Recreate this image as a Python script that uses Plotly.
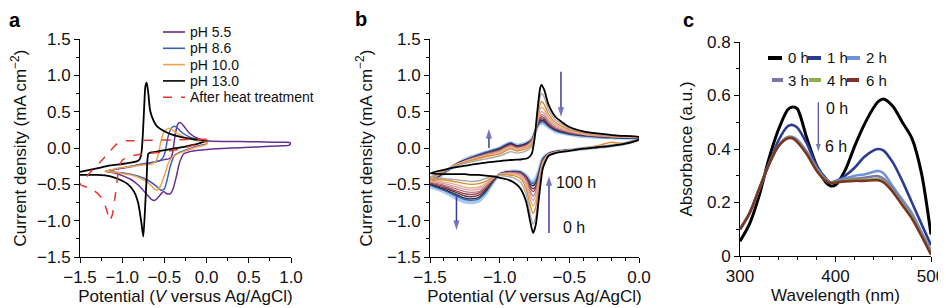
import plotly.graph_objects as go

# The page body keeps an 8 px margin, so the figure is 8 px smaller than the window
# and every reference pixel position is shifted by that offset.
W, H = 938, 300
OFF = 8
FONT = "Liberation Sans, Arial, Helvetica, sans-serif"

# ---------------- Panel a data (potential V vs Ag/AgCl, current mA cm-2) ----------------
A_PH55_E = [-1.2, -1.1, -1.0, -0.9, -0.8, -0.7, -0.6, -0.5, -0.45, -0.42, -0.4, -0.37, -0.34, -0.32, -0.29,
            -0.25, -0.2, -0.1, 0.0, 0.2, 0.4, 0.6, 0.8, 0.95, 1.0, 0.98, 0.9, 0.7, 0.5, 0.3, 0.1, 0.0,
            -0.1, -0.2, -0.27, -0.32, -0.36, -0.4, -0.43, -0.47, -0.51, -0.56, -0.61, -0.65, -0.7, -0.8,
            -0.9, -1.0, -1.1, -1.2]
A_PH55_J = [-0.32, -0.3, -0.28, -0.26, -0.23, -0.21, -0.19, -0.16, -0.15, -0.13, -0.05, 0.2, 0.33, 0.35, 0.33,
            0.27, 0.2, 0.13, 0.1, 0.09, 0.09, 0.085, 0.08, 0.08, 0.07, 0.04, 0.03, 0.02, 0.01, 0.0, -0.01, -0.02,
            -0.03, -0.05, -0.08, -0.2, -0.4, -0.57, -0.63, -0.63, -0.6, -0.66, -0.72, -0.71, -0.65, -0.52,
            -0.43, -0.38, -0.34, -0.32]

A_PH86_E = [-1.2, -1.0, -0.8, -0.65, -0.55, -0.52, -0.49, -0.46, -0.42, -0.38, -0.35, -0.3, -0.2, -0.1, 0.0,
            0.0, -0.1, -0.2, -0.3, -0.38, -0.43, -0.47, -0.5, -0.54, -0.6, -0.7, -0.8, -0.9, -1.0, -1.1, -1.2]
A_PH86_J = [-0.32, -0.27, -0.23, -0.2, -0.17, -0.14, -0.05, 0.14, 0.27, 0.3, 0.28, 0.22, 0.15, 0.12, 0.1,
            0.06, 0.03, -0.01, -0.05, -0.1, -0.25, -0.45, -0.56, -0.58, -0.52, -0.44, -0.39, -0.36, -0.34, -0.33, -0.32]

A_PH10_E = [-1.2, -1.0, -0.8, -0.65, -0.6, -0.57, -0.54, -0.5, -0.45, -0.42, -0.35, -0.25, -0.1, 0.0,
            0.0, -0.1, -0.2, -0.3, -0.4, -0.45, -0.5, -0.55, -0.59, -0.63, -0.7, -0.8, -0.9, -1.0, -1.1, -1.2]
A_PH10_J = [-0.32, -0.27, -0.24, -0.22, -0.18, -0.08, 0.1, 0.23, 0.27, 0.26, 0.2, 0.14, 0.1, 0.08,
            0.05, 0.02, -0.02, -0.06, -0.12, -0.2, -0.38, -0.53, -0.58, -0.55, -0.47, -0.41, -0.37, -0.35, -0.33, -0.32]

A_PH13_E = [-1.5, -1.3, -1.14, -1.0, -0.9, -0.82, -0.79, -0.77, -0.755, -0.74, -0.725, -0.71, -0.69, -0.67,
            -0.63, -0.59, -0.5, -0.4, -0.3, -0.15, 0.0, -0.1, -0.25, -0.4, -0.55, -0.65, -0.69, -0.71, -0.73,
            -0.75, -0.77, -0.81, -0.86, -0.93, -1.0, -1.14, -1.3, -1.5]
A_PH13_J = [-0.33, -0.28, -0.24, -0.22, -0.2, -0.18, -0.15, -0.05, 0.2, 0.55, 0.85, 0.9, 0.75, 0.52,
            0.38, 0.3, 0.23, 0.18, 0.15, 0.12, 0.1, 0.06, 0.02, -0.01, -0.04, -0.06, -0.08, -0.4, -0.85,
            -1.22, -1.05, -0.76, -0.6, -0.5, -0.45, -0.39, -0.37, -0.37]

A_HEAT_E = [0.0, -0.2, -0.4, -0.6, -0.8, -0.95, -1.02, -1.07, -1.15, -1.25, -1.35, -1.45, -1.5, -1.42, -1.34,
            -1.27, -1.22, -1.18, -1.15, -1.12, -1.09, -1.06, -1.04, -1.0, -0.93, -0.8, -0.65, -0.5, -0.3, -0.15, 0.0]
A_HEAT_J = [0.12, 0.12, 0.11, 0.11, 0.1, 0.1, 0.09, 0.05, -0.05, -0.18, -0.3, -0.43, -0.5, -0.54, -0.58,
            -0.65, -0.74, -0.87, -1.0, -0.93, -0.72, -0.45, -0.28, -0.17, -0.12, -0.09, -0.07, -0.05, -0.01, 0.04, 0.1]

A_NAMES = ["pH 5.5", "pH 8.6", "pH 10.0", "pH 13.0", "After heat treatment"]
A_COLORS = ["#6b2d8f", "#3b5fb5", "#f2a24e", "#000000", "#e0362c"]

# ---------------- Panel b data ----------------
B_E_UP = [-1.5, -1.4, -1.3, -1.2, -1.1, -1.0, -0.95, -0.92, -0.88, -0.84, -0.8, -0.77, -0.75, -0.73, -0.71,
          -0.70, -0.68, -0.65, -0.6, -0.5, -0.4, -0.3, -0.15, 0.0]
B_E_DN = [0.0, -0.1, -0.2, -0.3, -0.4, -0.5, -0.6, -0.65, -0.69, -0.72, -0.74, -0.76, -0.78, -0.81, -0.85,
          -0.9, -0.95, -1.0, -1.05, -1.1, -1.15, -1.2, -1.25, -1.3, -1.4, -1.5]

B_UP_000H = [-0.35, -0.30, -0.26, -0.23, -0.20, -0.18, -0.17, -0.165, -0.16, -0.155, -0.14, -0.08, 0.12, 0.50, 0.82, 0.87, 0.80, 0.60, 0.43, 0.29, 0.23, 0.20, 0.17, 0.15]
B_UP_010H = [-0.40, -0.31, -0.24, -0.19, -0.15, -0.11, -0.07, -0.05, -0.07, -0.06, -0.03, 0.02, 0.15, 0.45, 0.70, 0.75, 0.70, 0.53, 0.39, 0.27, 0.22, 0.19, 0.17, 0.15]
B_UP_020H = [-0.42, -0.32, -0.23, -0.17, -0.12, -0.08, -0.03, -0.01, -0.04, -0.03, 0.00, 0.05, 0.16, 0.40, 0.60, 0.64, 0.60, 0.47, 0.35, 0.25, 0.21, 0.18, 0.16, 0.15]
B_UP_030H = [-0.43, -0.32, -0.23, -0.16, -0.11, -0.06, -0.01, 0.01, -0.02, -0.01, 0.02, 0.07, 0.17, 0.38, 0.53, 0.56, 0.53, 0.42, 0.32, 0.24, 0.20, 0.18, 0.16, 0.14]
B_UP_040H = [-0.44, -0.32, -0.22, -0.15, -0.10, -0.05, 0.00, 0.02, -0.01, 0.00, 0.03, 0.08, 0.18, 0.36, 0.48, 0.50, 0.48, 0.39, 0.30, 0.23, 0.19, 0.17, 0.15, 0.14]
B_UP_050H = [-0.45, -0.33, -0.22, -0.15, -0.09, -0.04, 0.01, 0.03, 0.00, 0.01, 0.04, 0.09, 0.19, 0.34, 0.44, 0.46, 0.44, 0.36, 0.28, 0.22, 0.19, 0.17, 0.15, 0.14]
B_UP_060H = [-0.46, -0.33, -0.22, -0.14, -0.08, -0.03, 0.02, 0.04, 0.01, 0.02, 0.05, 0.10, 0.19, 0.33, 0.41, 0.43, 0.41, 0.34, 0.27, 0.21, 0.18, 0.16, 0.15, 0.14]
B_UP_070H = [-0.47, -0.33, -0.21, -0.14, -0.08, -0.02, 0.03, 0.05, 0.02, 0.03, 0.06, 0.10, 0.20, 0.32, 0.39, 0.40, 0.39, 0.32, 0.26, 0.21, 0.18, 0.16, 0.15, 0.14]
B_UP_080H = [-0.48, -0.34, -0.21, -0.13, -0.07, -0.01, 0.04, 0.06, 0.03, 0.04, 0.07, 0.11, 0.20, 0.31, 0.37, 0.38, 0.37, 0.31, 0.25, 0.20, 0.17, 0.16, 0.14, 0.13]
B_UP_090H = [-0.49, -0.34, -0.21, -0.13, -0.06, 0.00, 0.05, 0.07, 0.03, 0.04, 0.07, 0.11, 0.20, 0.30, 0.35, 0.36, 0.35, 0.30, 0.24, 0.19, 0.17, 0.15, 0.14, 0.13]
B_UP_100H = [-0.50, -0.35, -0.21, -0.12, -0.06, 0.00, 0.05, 0.07, 0.04, 0.05, 0.08, 0.12, 0.20, 0.29, 0.34, 0.34, 0.33, 0.29, 0.23, 0.19, 0.16, 0.15, 0.14, 0.13]

B_DN_000H = [0.12, 0.06, 0.03, 0.01, -0.01, -0.04, -0.07, -0.11, -0.28, -0.72, -1.05, -1.17, -1.02, -0.74, -0.56, -0.47, -0.43, -0.41, -0.39, -0.38, -0.37, -0.37, -0.36, -0.36, -0.36, -0.35]
B_DN_010H = [0.12, 0.07, 0.04, 0.02, 0.00, -0.03, -0.06, -0.10, -0.25, -0.64, -0.94, -1.05, -0.92, -0.64, -0.47, -0.41, -0.39, -0.38, -0.39, -0.42, -0.45, -0.46, -0.45, -0.44, -0.42, -0.41]
B_DN_020H = [0.11, 0.06, 0.08, 0.03, 0.00, -0.03, -0.06, -0.10, -0.23, -0.56, -0.81, -0.90, -0.80, -0.56, -0.42, -0.38, -0.37, -0.37, -0.40, -0.46, -0.49, -0.50, -0.49, -0.47, -0.44, -0.43]
B_DN_030H = [0.12, 0.06, 0.03, 0.01, -0.01, -0.03, -0.06, -0.09, -0.21, -0.50, -0.72, -0.80, -0.71, -0.50, -0.39, -0.36, -0.36, -0.37, -0.41, -0.49, -0.54, -0.55, -0.54, -0.51, -0.47, -0.45]
B_DN_040H = [0.12, 0.06, 0.03, 0.01, -0.01, -0.03, -0.06, -0.09, -0.20, -0.46, -0.65, -0.72, -0.65, -0.47, -0.37, -0.35, -0.35, -0.36, -0.42, -0.51, -0.57, -0.58, -0.57, -0.54, -0.49, -0.46]
B_DN_050H = [0.12, 0.06, 0.03, 0.01, -0.01, -0.03, -0.06, -0.09, -0.19, -0.43, -0.60, -0.66, -0.60, -0.44, -0.36, -0.34, -0.34, -0.36, -0.43, -0.53, -0.60, -0.61, -0.60, -0.57, -0.51, -0.47]
B_DN_060H = [0.12, 0.06, 0.03, 0.01, -0.01, -0.03, -0.05, -0.08, -0.18, -0.40, -0.55, -0.60, -0.56, -0.42, -0.35, -0.34, -0.34, -0.36, -0.44, -0.55, -0.62, -0.64, -0.63, -0.60, -0.53, -0.48]
B_DN_070H = [0.12, 0.06, 0.03, 0.01, -0.01, -0.03, -0.05, -0.08, -0.17, -0.38, -0.52, -0.56, -0.53, -0.41, -0.34, -0.33, -0.33, -0.36, -0.45, -0.57, -0.65, -0.67, -0.66, -0.62, -0.55, -0.49]
B_DN_080H = [0.12, 0.06, 0.03, 0.01, -0.01, -0.03, -0.05, -0.08, -0.16, -0.36, -0.48, -0.52, -0.50, -0.40, -0.34, -0.33, -0.33, -0.36, -0.46, -0.59, -0.68, -0.70, -0.69, -0.65, -0.57, -0.50]
B_DN_090H = [0.12, 0.06, 0.03, 0.01, -0.01, -0.03, -0.05, -0.08, -0.15, -0.34, -0.45, -0.49, -0.47, -0.39, -0.33, -0.32, -0.33, -0.36, -0.47, -0.61, -0.70, -0.72, -0.71, -0.67, -0.58, -0.51]
B_DN_100H = [0.12, 0.06, 0.03, 0.01, -0.01, -0.03, -0.05, -0.08, -0.14, -0.32, -0.42, -0.46, -0.45, -0.38, -0.33, -0.32, -0.33, -0.36, -0.48, -0.63, -0.73, -0.75, -0.74, -0.70, -0.60, -0.53]

B_NAMES = ["0 h", "10 h", "20 h", "30 h", "40 h", "50 h", "60 h", "70 h", "80 h", "90 h", "100 h"]
B_COLORS = ["#000000", "#a8a8a8", "#e08a2a", "#e6b08c", "#d9a0a6", "#b87480", "#93464f",
            "#6a2e3a", "#1f2b58", "#3b6fb0", "#a8c8ec"]
B_WIDTHS = [1.8, 1.4, 1.4, 1.4, 1.4, 1.4, 1.4, 1.4, 1.4, 1.6, 3.5]

# arrows drawn in panel b (tail x, tail y, tip x, tip y)
B_ARROWS = [(-0.56, 1.05, -0.56, 0.43), (-1.077, 0.0, -1.077, 0.26),
            (-1.31, -0.67, -1.31, -1.13), (-0.646, -1.17, -0.646, -0.39)]

# ---------------- Panel c data (absorbance) ----------------
C_WL = [300, 310, 320, 330, 340, 350, 355, 360, 370, 380, 390, 395, 400, 410, 420, 430, 440, 445, 450, 460, 470, 480, 490, 500]
C_0H = [0.055, 0.12, 0.225, 0.36, 0.47, 0.547, 0.557, 0.55, 0.44, 0.34, 0.275, 0.262, 0.265, 0.32, 0.41, 0.49, 0.555, 0.578, 0.587, 0.56, 0.50, 0.44, 0.31, 0.08]
C_1H = [0.10, 0.16, 0.25, 0.34, 0.43, 0.485, 0.49, 0.48, 0.42, 0.34, 0.29, 0.275, 0.28, 0.30, 0.33, 0.37, 0.395, 0.40, 0.395, 0.35, 0.28, 0.20, 0.12, 0.04]
C_2H = [0.10, 0.16, 0.25, 0.34, 0.41, 0.445, 0.445, 0.435, 0.39, 0.33, 0.285, 0.275, 0.28, 0.29, 0.30, 0.305, 0.315, 0.318, 0.31, 0.26, 0.21, 0.16, 0.09, 0.02]
C_3H = [0.10, 0.16, 0.25, 0.34, 0.41, 0.443, 0.443, 0.43, 0.385, 0.325, 0.283, 0.275, 0.278, 0.285, 0.29, 0.292, 0.298, 0.298, 0.29, 0.25, 0.20, 0.15, 0.085, 0.015]
C_4H = [0.10, 0.16, 0.25, 0.34, 0.41, 0.441, 0.441, 0.428, 0.383, 0.323, 0.282, 0.274, 0.276, 0.282, 0.285, 0.285, 0.287, 0.287, 0.28, 0.243, 0.195, 0.145, 0.08, 0.01]
C_6H = [0.10, 0.16, 0.25, 0.34, 0.41, 0.44, 0.44, 0.426, 0.38, 0.32, 0.28, 0.273, 0.275, 0.279, 0.281, 0.281, 0.283, 0.283, 0.276, 0.24, 0.19, 0.14, 0.075, 0.005]
C_NAMES = ["0 h", "1 h", "2 h", "3 h", "4 h", "6 h"]
C_COLORS = ["#000000", "#2a3a96", "#7191d6", "#7b77aa", "#8db04a", "#7b3428"]
C_ARROW = (382, 0.575, 382, 0.39)

# ---------------- figure ----------------
fig = go.Figure()

a_series = [(A_PH55_E, A_PH55_J), (A_PH86_E, A_PH86_J), (A_PH10_E, A_PH10_J),
            (A_PH13_E, A_PH13_J), (A_HEAT_E, A_HEAT_J)]
for (ex, jy), name, col in zip(a_series, A_NAMES, A_COLORS):
    dash = "dash" if name.startswith("After") else "solid"
    fig.add_trace(go.Scatter(x=ex, y=jy, mode="lines", name=name, xaxis="x", yaxis="y",
                             line=dict(color=col, width=1.8 if col == "#000000" else 1.5, dash=dash,
                                       shape="spline", smoothing=0.6),
                             showlegend=False))

b_up = [B_UP_000H, B_UP_010H, B_UP_020H, B_UP_030H, B_UP_040H, B_UP_050H,
        B_UP_060H, B_UP_070H, B_UP_080H, B_UP_090H, B_UP_100H]
b_dn = [B_DN_000H, B_DN_010H, B_DN_020H, B_DN_030H, B_DN_040H, B_DN_050H,
        B_DN_060H, B_DN_070H, B_DN_080H, B_DN_090H, B_DN_100H]
for i in reversed(range(len(B_NAMES))):
    fig.add_trace(go.Scatter(x=B_E_UP + B_E_DN, y=b_up[i] + b_dn[i], mode="lines", name=B_NAMES[i],
                             xaxis="x2", yaxis="y2",
                             line=dict(color=B_COLORS[i], width=B_WIDTHS[i], shape="spline", smoothing=0.6),
                             showlegend=False))

c_series = [C_0H, C_1H, C_2H, C_3H, C_4H, C_6H]
for ys, name, col in zip(c_series, C_NAMES, C_COLORS):
    fig.add_trace(go.Scatter(x=C_WL, y=ys, mode="lines", name=name, xaxis="x3", yaxis="y3",
                             line=dict(color=col, width=3 if name == "0 h" else 2.6,
                                       shape="spline", smoothing=0.8),
                             showlegend=False))


# arrows as line traces with an arrow-head marker at the tip
def add_arrow(x0, y0, x1, y1, xa, ya, color, width, size):
    fig.add_trace(go.Scatter(x=[x0, x1], y=[y0, y1], mode="lines+markers", xaxis=xa, yaxis=ya,
                             line=dict(color=color, width=width),
                             marker=dict(symbol="arrow", angleref="previous", size=[0, size],
                                         color=color, line=dict(width=0)),
                             hoverinfo="skip", showlegend=False))


for x0, y0, x1, y1 in B_ARROWS:
    add_arrow(x0, y0, x1, y1, "x2", "y2", "#3b3b9c", 1.5, 10)
add_arrow(*C_ARROW, "x3", "y3", "#4a4aa0", 1.2, 8)


def px2fx(p):
    return (p - OFF) / W


def px2fy(p):
    return 1 - (p - OFF) / H


tickfont = dict(family=FONT, size=17, color="#111")
titlefont = dict(family=FONT, size=17, color="#111")


def xax(domain, rng, dtick, minor, title, fmt, anchor, standoff=2):
    return dict(domain=domain, range=rng, anchor=anchor, automargin=False,
                showline=True, linecolor="black", linewidth=1,
                ticks="outside", ticklen=5, tickwidth=1, tickcolor="black", dtick=dtick, tick0=rng[0],
                minor=dict(dtick=minor, ticks="outside", ticklen=3, tickcolor="black", tickwidth=1, showgrid=False),
                showgrid=False, zeroline=False, tickfont=tickfont, tickformat=fmt,
                title=dict(text=title, font=titlefont, standoff=standoff))


def yax(domain, rng, dtick, minor, title, fmt, anchor, standoff=10, tickvals=None, ticktext=None):
    d = dict(domain=domain, range=rng, anchor=anchor, automargin=False,
             showline=True, linecolor="black", linewidth=1,
             ticks="outside", ticklen=5, tickwidth=1, tickcolor="black", dtick=dtick, tick0=rng[0],
             minor=dict(dtick=minor, ticks="outside", ticklen=3, tickcolor="black", tickwidth=1, showgrid=False),
             showgrid=False, zeroline=False, tickfont=tickfont, tickformat=fmt,
             title=dict(text=title, font=titlefont, standoff=standoff))
    if tickvals is not None:
        d["tickvals"] = tickvals
        d["ticktext"] = ticktext
        d.pop("dtick")
        d.pop("tick0")
    return d


pot_title = "Potential (<i>V</i> versus Ag/AgCl)"
cur_title = "Current density (mA cm<sup>−2</sup>)"

fig.update_layout(
    width=W, height=H, margin=dict(l=0, r=0, t=0, b=0, autoexpand=False),
    paper_bgcolor="white", plot_bgcolor="white", showlegend=False,
    font=dict(family=FONT, size=16, color="#111"),
    xaxis=xax([px2fx(80), px2fx(291)], [-1.5, 1.0], 0.5, 0.25, pot_title, ".1f", "y"),
    yaxis=yax([px2fy(257), px2fy(39)], [-1.5, 1.5], 0.5, 0.25, cur_title, ".1f", "x"),
    xaxis2=xax([px2fx(430), px2fx(639)], [-1.5, 0.0], 0.5, 0.1, pot_title, ".1f", "y2"),
    yaxis2=yax([px2fy(257), px2fy(39)], [-1.5, 1.5], 0.5, 0.25, cur_title, ".1f", "x2"),
    xaxis3=xax([px2fx(740), px2fx(931)], [300, 500], 100, 20, "Wavelength (nm)", "d", "y3"),
    yaxis3=yax([px2fy(256), px2fy(42)], [0, 0.8], 0.2, 0.1, "Absorbance (a.u.)", ".1f", "x3",
               tickvals=[0, 0.2, 0.4, 0.6, 0.8], ticktext=["0", "0.2", "0.4", "0.6", "0.8"]),
)

annotations = []
shapes = []

# panel letters
for letter, cx, cy in [("a", 15, 20), ("b", 361, 19), ("c", 688, 20)]:
    annotations.append(dict(text="<b>%s</b>" % letter, x=px2fx(cx), y=px2fy(cy), xref="paper", yref="paper",
                            showarrow=False, font=dict(family=FONT, size=20, color="black"),
                            xanchor="center", yanchor="middle"))

# legend of panel a
LEG_A_ROWS = [32, 48.3, 64.6, 80.9, 97.2]
for name, col, ry in zip(A_NAMES, A_COLORS, LEG_A_ROWS):
    shapes.append(dict(type="line", xref="paper", yref="paper", x0=px2fx(163), x1=px2fx(185),
                       y0=px2fy(ry), y1=px2fy(ry),
                       line=dict(color=col, width=1.6, dash="dash" if name.startswith("After") else "solid")))
    annotations.append(dict(text=name, x=px2fx(188), y=px2fy(ry), xref="paper", yref="paper",
                            showarrow=False, xanchor="left", yanchor="middle", height=16,
                            font=dict(family=FONT, size=14, color="#111")))

# legend of panel c (two rows of three)
LEG_C_ROWS = [58, 58, 58, 80, 80, 80]
LEG_C_LINE_X = [(768, 782), (808, 821), (847, 860), (772, 783), (809, 821), (847, 859)]
LEG_C_TEXT_X = [786, 825, 864, 786, 825, 864]
for name, col, ry, (lx0, lx1), tx in zip(C_NAMES, C_COLORS, LEG_C_ROWS, LEG_C_LINE_X, LEG_C_TEXT_X):
    shapes.append(dict(type="line", xref="paper", yref="paper", x0=px2fx(lx0), x1=px2fx(lx1),
                       y0=px2fy(ry), y1=px2fy(ry), line=dict(color=col, width=4)))
    annotations.append(dict(text=name, x=px2fx(tx), y=px2fy(ry), xref="paper", yref="paper",
                            showarrow=False, xanchor="left", yanchor="middle",
                            font=dict(family=FONT, size=15, color="#111")))

annotations.append(dict(text="100 h", x=-0.61, y=-0.48, xref="x2", yref="y2", showarrow=False,
                        xanchor="left", yanchor="middle", font=dict(family=FONT, size=16, color="#111")))
annotations.append(dict(text="0 h", x=-0.56, y=-1.1, xref="x2", yref="y2", showarrow=False,
                        xanchor="left", yanchor="middle", font=dict(family=FONT, size=16, color="#111")))
annotations.append(dict(text="0 h", x=388, y=0.553, xref="x3", yref="y3", showarrow=False,
                        xanchor="left", yanchor="middle", font=dict(family=FONT, size=16, color="#111")))
annotations.append(dict(text="6 h", x=387, y=0.41, xref="x3", yref="y3", showarrow=False,
                        xanchor="left", yanchor="middle", font=dict(family=FONT, size=16, color="#111")))

fig.update_layout(annotations=annotations, shapes=shapes)

fig.write_html("out.html")
